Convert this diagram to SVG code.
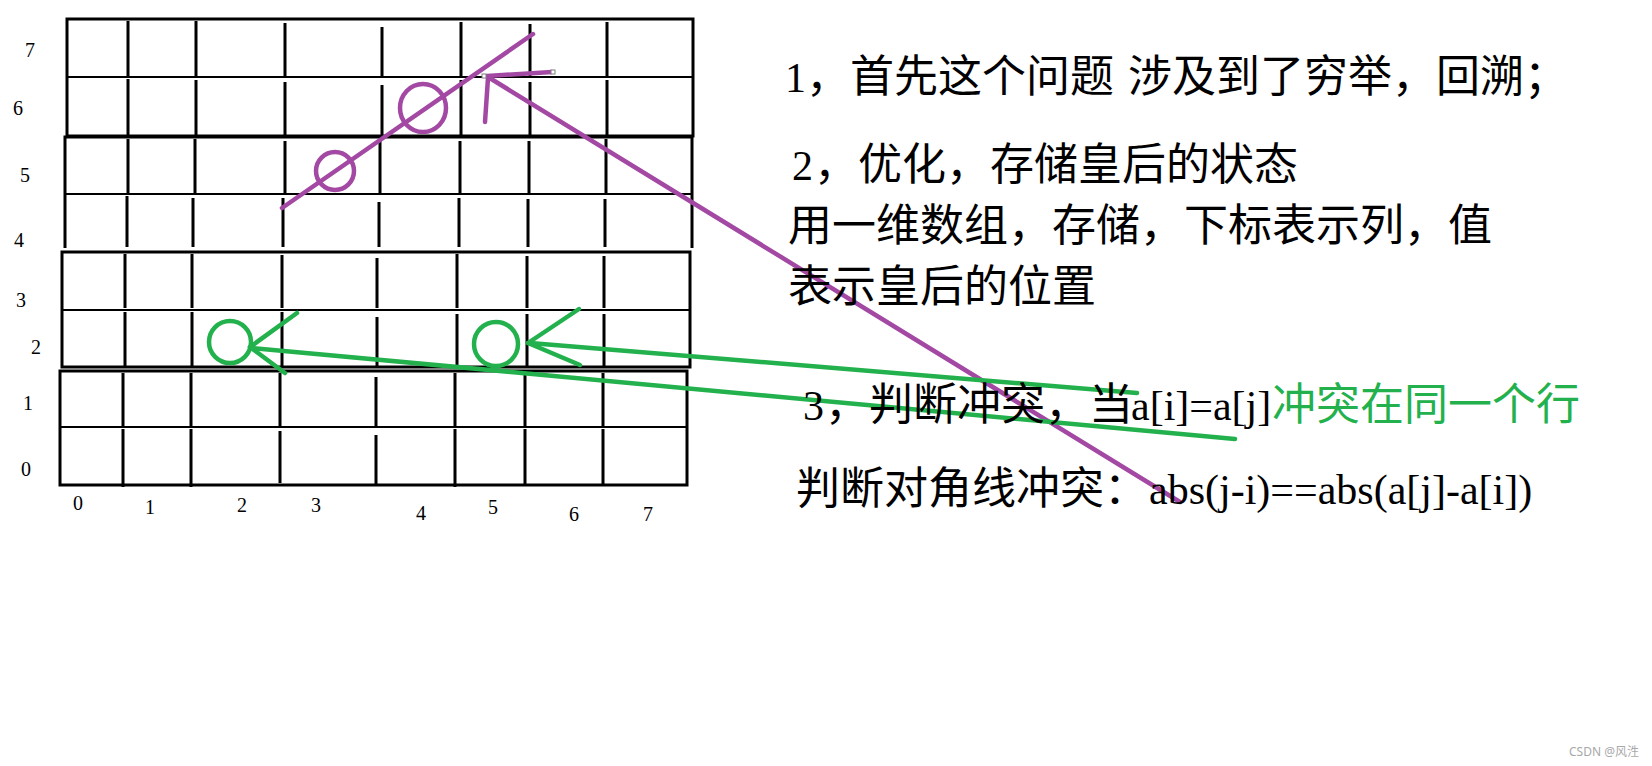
<svg xmlns="http://www.w3.org/2000/svg" width="1652" height="766" viewBox="0 0 1652 766">
<style>
.frame{fill:none;stroke:#000;stroke-width:3}
.mid{fill:none;stroke:#000;stroke-width:2}
.vl{fill:none;stroke:#000;stroke-width:3}
.num{font-family:"Liberation Serif","Times New Roman",serif;font-size:20px;fill:#000;text-anchor:middle}
.pu{fill:none;stroke:#a349a4;stroke-width:4.5;stroke-linecap:round}
.gr{fill:none;stroke:#22b14c;stroke-width:4.5;stroke-linecap:round}
.handle{fill:#fff;stroke:#7f7f7f;stroke-width:1}
.t{font-family:"Noto Sans CJK SC","Liberation Serif",serif;font-size:44px;fill:#000}
.lat{font-family:"Liberation Serif","Times New Roman",serif;font-size:42px}
</style>
<rect width="1652" height="766" fill="#fff"/>
<g id="grid">
  <!-- block 1: rows 7,6 -->
  <rect class="frame" x="67" y="19" width="626" height="117"/>
  <line class="mid" x1="67" y1="77" x2="693" y2="77"/>
  <path class="vl" d="M128,21V76M196,21V76M285,23V76M382,27V77M461,22V77M530,24V77M607,22V76
                      M128,79V135M196,80V135M285,82V135M382,85V135M461,80V135M530,82V135M607,80V135"/>
  <!-- block 2: rows 5,4 (open bottom) -->
  <path class="frame" d="M65,248V137H692V248"/>
  <line class="mid" x1="65" y1="194" x2="692" y2="194"/>
  <path class="vl" d="M128,139V193M195,139V193M285,141V193M380,139V193M460,141V193M529,141V193M606,139V193
                      M127,196V247M193,198V247M283,198V247M379,202V247M459,198V247M528,199V247M605,199V247"/>
  <!-- block 3: rows 3,2 -->
  <rect class="frame" x="62" y="252" width="628" height="115"/>
  <line class="mid" x1="62" y1="310" x2="690" y2="310"/>
  <path class="vl" d="M125,254V308M192,254V308M282,255V308M377,258V308M457,254V308M527,256V308M604,256V308
                      M125,312V366M192,312V366M282,312V366M377,317V366M457,314V366M527,314V366M604,314V366"/>
  <!-- block 4: rows 1,0 -->
  <rect class="frame" x="60" y="371" width="627" height="114"/>
  <line class="mid" x1="60" y1="427" x2="687" y2="427"/>
  <path class="vl" d="M123,373V426M191,373V426M280,373V426M376,377V426M455,373V426M525,373V426M603,373V426
                      M123,429V487M191,429V487M280,431V483M376,435V485M455,429V487M525,429V486M603,429V486"/>
</g>
<g id="row-labels">
  <text class="num" x="30" y="57" font-size="21">7</text>
  <text class="num" x="18" y="115" font-size="21">6</text>
  <text class="num" x="25" y="182" font-size="21">5</text>
  <text class="num" x="19" y="247" font-size="21">4</text>
  <text class="num" x="21" y="307" font-size="21">3</text>
  <text class="num" x="36" y="354" font-size="21">2</text>
  <text class="num" x="28" y="410" font-size="21">1</text>
  <text class="num" x="26" y="476" font-size="21">0</text>
</g>
<g id="col-labels">
  <text class="num" x="78" y="510">0</text>
  <text class="num" x="150" y="514">1</text>
  <text class="num" x="242" y="512">2</text>
  <text class="num" x="316" y="512">3</text>
  <text class="num" x="421" y="520">4</text>
  <text class="num" x="493" y="514">5</text>
  <text class="num" x="574" y="521">6</text>
  <text class="num" x="648" y="521">7</text>
</g>
<g id="connectors">
  <!-- purple diagonal -->
  <line class="pu" x1="282" y1="208" x2="533" y2="34"/>
  <ellipse class="pu" cx="423" cy="108" rx="23" ry="24"/>
  <ellipse class="pu" cx="335" cy="171" rx="19" ry="19"/>
  <line class="pu" x1="487" y1="76" x2="552" y2="72"/>
  <line class="pu" x1="488" y1="78" x2="485" y2="122"/>
  <line class="pu" x1="488" y1="77" x2="1180" y2="502"/>
  <rect class="handle" x="482" y="74" width="4" height="4"/>
  <rect class="handle" x="551" y="70" width="4" height="4"/>
  <!-- green row conflict -->
  <circle class="gr" cx="230" cy="342" r="21"/>
  <circle class="gr" cx="496" cy="344" r="22"/>
  <line class="gr" x1="250" y1="347" x2="297" y2="313"/>
  <line class="gr" x1="250" y1="347" x2="285" y2="373"/>
  <line class="gr" x1="252" y1="348" x2="1235" y2="439"/>
  <line class="gr" x1="528" y1="343" x2="579" y2="309"/>
  <line class="gr" x1="528" y1="343" x2="580" y2="365"/>
  <line class="gr" x1="530" y1="343" x2="1137" y2="393"/>
</g>
<g id="notes">
  <text class="t" y="92"><tspan class="lat" x="785">1</tspan><tspan x="806">，首先这个问题</tspan><tspan x="1128">涉及到了穷举，回溯；</tspan></text>
  <text class="t" y="180"><tspan class="lat" x="792">2</tspan><tspan x="814">，优化，存储皇后的状态</tspan></text>
  <text class="t" x="788" y="241">用一维数组，存储，下标表示列，值</text>
  <text class="t" x="788" y="302">表示皇后的位置</text>
  <text class="t" y="420"><tspan class="lat" x="803">3</tspan><tspan x="825">，判断冲突，当</tspan><tspan class="lat" x="1131">a[i]=a[j]</tspan><tspan x="1272" fill="#22b14c">冲突在同一个行</tspan></text>
  <text class="t" y="504"><tspan x="796">判断对角线冲突：</tspan><tspan class="lat" x="1149">abs(j-i)==abs(a[j]-a[i])</tspan></text>
</g>
<text x="1569" y="756" font-family="'Noto Sans','Noto Sans CJK SC',sans-serif" font-size="12" fill="#a8a8a8">CSDN @风泩</text>
</svg>
